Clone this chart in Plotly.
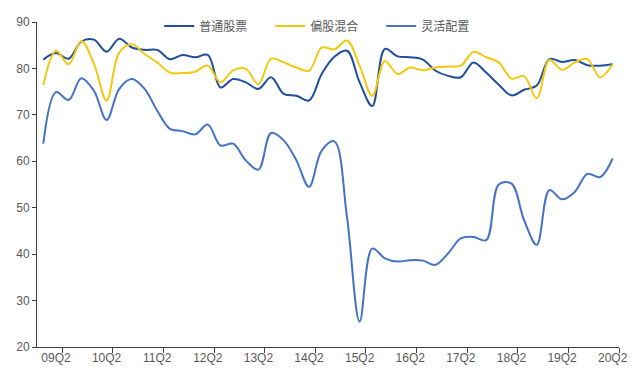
import plotly.graph_objects as go

quarters = [f"{y:02d}Q{q}" for y in range(9, 21) for q in range(1, 5)][:46]
tick_labels = ["09Q2", "10Q2", "11Q2", "12Q2", "13Q2", "14Q2", "15Q2", "16Q2", "17Q2", "18Q2", "19Q2", "20Q2"]

putong = [81.9, 83.3, 82.1, 85.8, 86.2, 83.6, 86.4, 84.5, 84.0, 84.0,
          82.0, 82.9, 82.4, 82.9, 75.9, 77.7, 77.0, 75.6, 78.1, 74.5,
          74.1, 73.1, 78.8, 82.5, 83.8, 77.0, 71.9, 84.2, 82.6, 82.4,
          81.9, 79.5, 78.4, 78.1, 81.3, 79.1, 76.5, 74.2, 75.4, 76.3,
          82.0, 81.4, 81.8, 80.7, 80.6, 80.9]
piangu = [76.4, 83.8, 80.9, 85.9, 81.0, 73.1, 83.4, 85.2, 83.1, 81.3,
          79.1, 79.0, 79.3, 80.6, 77.0, 79.6, 79.9, 76.6, 82.1, 81.3,
          80.2, 79.5, 84.5, 84.1, 86.0, 80.6, 74.1, 81.6, 78.8, 80.2,
          79.6, 80.2, 80.4, 80.6, 83.6, 82.4, 81.3, 77.8, 78.3, 73.6,
          81.8, 79.7, 81.3, 82.0, 78.1, 80.9]
linghuo = [63.8, 74.9, 73.2, 77.9, 75.2, 68.9, 75.6, 77.7, 75.6, 70.9,
           67.0, 66.5, 65.8, 67.9, 63.4, 63.8, 60.2, 58.2, 66.1, 64.5,
           60.2, 54.5, 62.3, 64.3, 48.0, 25.5, 41.2, 39.1, 38.4, 38.7,
           38.6, 37.7, 40.2, 43.4, 43.7, 43.0, 55.0, 55.2, 47.3, 42.0,
           53.8, 51.8, 53.4, 57.3, 56.6, 60.6]

names = ["普通股票", "偏股混合", "灵活配置"]
series = [putong, piangu, linghuo]
colors = ["#1F4E9A", "#F2C811", "#4472C4"]

x = list(range(len(quarters)))
fig = go.Figure()
for n, s, c in zip(names, series, colors):
    fig.add_trace(go.Scatter(x=x, y=s, name=n, mode="lines",
                             line=dict(color=c, width=2, shape="spline", smoothing=1.0)))

tickvals = [quarters.index(t) for t in tick_labels]
axis_color = "#404040"
label_font = dict(family="Liberation Sans, Arial", size=12, color="#595959")

fig.update_layout(
    width=640, height=380,
    margin=dict(l=37, r=21, t=21, b=33),
    paper_bgcolor="white", plot_bgcolor="white",
    showlegend=True,
    legend=dict(orientation="h", x=0.21, xanchor="left", y=0.985, yanchor="middle",
                font=dict(family="Noto Sans CJK SC", size=12, color="#595959"),
                bgcolor="rgba(0,0,0,0)", entrywidth=66, entrywidthmode="pixels",
                itemwidth=30),
    xaxis=dict(range=[-0.5, 45.5], tickmode="array", tickvals=tickvals, ticktext=tick_labels,
               ticks="", showgrid=False, showline=True, linecolor=axis_color, linewidth=1,
               zeroline=False, tickfont=label_font,
               minor=dict(tickmode="array", tickvals=[v + 0.5 for v in tickvals],
                          ticks="outside", ticklen=5, tickcolor=axis_color, showgrid=False)),
    yaxis=dict(range=[20, 90], tickmode="linear", tick0=20, dtick=10, ticks="outside",
               ticklen=4, tickcolor=axis_color, showgrid=False, showline=True,
               linecolor=axis_color, linewidth=1, zeroline=False, tickfont=label_font),
)

fig.write_html("out.html")
